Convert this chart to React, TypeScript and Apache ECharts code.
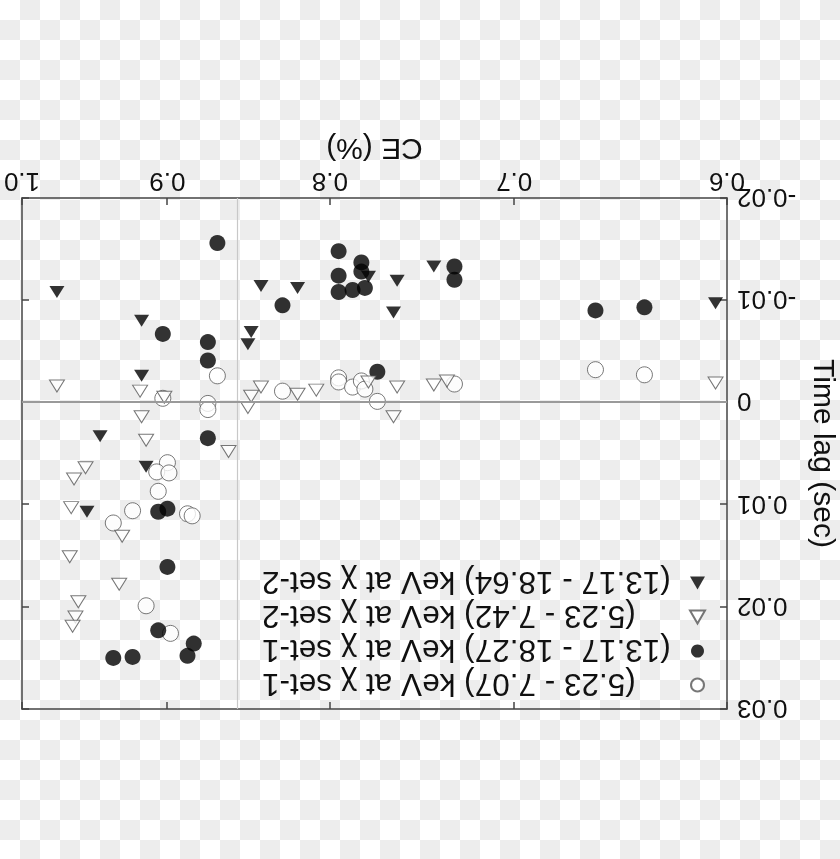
import React, { useEffect, useRef } from "react";
import * as echarts from "echarts";

// the reference picture is the plot turned upside down, so the chart is drawn
// the normal way and the whole box is rotated by 180deg at the end

const FONT = "Liberation Sans, Arial, Helvetica, sans-serif";

const ceTicks = [0.6, 0.7, 0.8, 0.9, 1.0];
const lagMin = -0.02;
const lagMax = 0.03;
const lagStep = 0.01;
const ceRefLine = 0.855;

const legendNames = [
  "(5.23 - 7.07) keV at χ set-1",
  "(13.17 - 18.27) keV at χ set-1",
  "(5.23 - 7.42) keV at χ set-2",
  "(13.17 - 18.64) keV at χ set-2",
];

// [CE, time lag]
const set1Soft = [
  [0.868, -0.0026], [0.903, -0.0004], [0.874, 0.0001], [0.874, 0.0007],
  [0.828, -0.0011], [0.795, -0.0024], [0.795, -0.002], [0.787, -0.0015],
  [0.782, -0.0021], [0.78, -0.0013], [0.773, -0.0001], [0.731, -0.0018],
  [0.66, -0.0032], [0.637, -0.0027], [0.9, 0.0059], [0.907, 0.0068],
  [0.899, 0.0069], [0.906, 0.0087], [0.923, 0.0106], [0.936, 0.0118],
  [0.887, 0.0109], [0.884, 0.0111], [0.914, 0.0199], [0.898, 0.0226],
];

const set1Hard = [
  [0.868, -0.0156], [0.795, -0.0148], [0.782, -0.0137], [0.782, -0.0128],
  [0.795, -0.0124], [0.795, -0.0108], [0.787, -0.011], [0.78, -0.0112],
  [0.731, -0.0133], [0.731, -0.012], [0.828, -0.0095], [0.903, -0.0067],
  [0.874, -0.0059], [0.874, -0.0041], [0.773, -0.003], [0.66, -0.009],
  [0.637, -0.0093], [0.874, 0.0035], [0.906, 0.0107], [0.9, 0.0104],
  [0.9, 0.0161], [0.906, 0.0223], [0.883, 0.0236], [0.887, 0.0248],
  [0.936, 0.025], [0.923, 0.0249],
];

const set2Soft = [
  [0.975, -0.0016], [0.918, -0.0011], [0.902, -0.0005], [0.841, -0.0015],
  [0.847, -0.0006], [0.849, 0.0005], [0.819, -0.0008], [0.808, -0.0012],
  [0.778, -0.002], [0.762, -0.0015], [0.764, 0.0014], [0.742, -0.0017],
  [0.735, -0.0021], [0.605, -0.0019], [0.917, 0.0014], [0.914, 0.0037],
  [0.861, 0.0048], [0.955, 0.0064], [0.963, 0.0075], [0.965, 0.0103],
  [0.93, 0.0131], [0.966, 0.0151], [0.932, 0.0178], [0.96, 0.0195],
  [0.962, 0.021], [0.964, 0.0219],
];

const set2Hard = [
  [0.975, -0.0108], [0.841, -0.0114], [0.819, -0.0112], [0.778, -0.0123],
  [0.762, -0.0119], [0.764, -0.0088], [0.917, -0.008], [0.847, -0.0069],
  [0.849, -0.0057], [0.917, -0.0026], [0.742, -0.0133], [0.605, -0.0097],
  [0.945, 0.0033], [0.914, 0.0063], [0.954, 0.0107],
];

const axisColor = "#444";

const ceAxis = (pos: "bottom" | "top") => ({
  type: "log",
  logBase: 10,
  min: 0.6,
  max: 1.0,
  position: pos,
  name: pos === "bottom" ? "CE (%)" : "",
  nameLocation: "middle",
  nameGap: 27,
  nameTextStyle: { fontSize: 30, color: "#111", fontFamily: FONT },
  axisLine: { show: true, onZero: false, lineStyle: { color: axisColor, width: 1.5 } },
  axisTick: {
    show: true,
    inside: true,
    length: 7,
    customValues: ceTicks,
    lineStyle: { color: axisColor, width: 1.5 },
  },
  axisLabel: {
    show: pos === "bottom",
    customValues: ceTicks,
    formatter: (v: number) => v.toFixed(1),
    fontSize: 26,
    margin: 3,
    color: "#111",
    fontFamily: FONT,
  },
  splitLine: { show: false },
});

const lagAxis = (pos: "left" | "right") => ({
  type: "value",
  min: lagMin,
  max: lagMax,
  interval: lagStep,
  position: pos,
  name: pos === "left" ? "Time lag (sec)" : "",
  nameLocation: "middle",
  nameGap: 82,
  nameTextStyle: { fontSize: 30, color: "#111", fontFamily: FONT },
  axisLine: { show: true, onZero: false, lineStyle: { color: axisColor, width: 1.5 } },
  axisTick: { show: true, inside: true, length: 7, lineStyle: { color: axisColor, width: 1.5 } },
  axisLabel: {
    show: pos === "left",
    formatter: (v: number) => (Math.abs(v) < 1e-9 ? "0" : v.toFixed(2)),
    fontSize: 26,
    margin: 10,
    color: "#111",
    fontFamily: FONT,
  },
  splitLine: { show: false },
});

const openStyle = { color: "#ffffff", borderColor: "#555", borderWidth: 1 };
const filledStyle = { color: "#000000" };

const option: any = {
  animation: false,
  textStyle: { fontFamily: FONT },
  grid: { left: 113, right: 22, top: 150, bottom: 198, containLabel: false, outerBoundsMode: "none" },
  xAxis: [ceAxis("bottom"), ceAxis("top")],
  yAxis: [lagAxis("left"), lagAxis("right")],
  legend: {
    data: legendNames,
    orient: "vertical",
    left: 134,
    top: 158,
    padding: 0,
    itemGap: 2,
    itemWidth: 15,
    itemHeight: 13,
    selectedMode: false,
    formatter: (name: string) => `{t|${name}}`,
    textStyle: {
      rich: {
        t: { fontSize: 31.5, width: 423, align: "right", color: "#111", fontFamily: FONT },
      },
    },
  },
  series: [
    {
      name: legendNames[0],
      type: "scatter",
      symbol: "circle",
      symbolSize: 16,
      itemStyle: openStyle,
      data: set1Soft,
      markLine: {
        silent: true,
        precision: 4,
        symbol: ["none", "none"],
        label: { show: false },
        data: [
          { xAxis: ceRefLine, lineStyle: { color: "#c8c8c8", width: 1.2, type: "solid" } },
          { yAxis: 0, lineStyle: { color: "#9a9a9a", width: 2, type: "solid" } },
        ],
      },
    },
    {
      name: legendNames[1],
      type: "scatter",
      symbol: "circle",
      symbolSize: 16,
      itemStyle: filledStyle,
      data: set1Hard,
    },
    {
      name: legendNames[2],
      type: "scatter",
      symbol: "triangle",
      symbolSize: [15, 12],
      itemStyle: openStyle,
      data: set2Soft,
    },
    {
      name: legendNames[3],
      type: "scatter",
      symbol: "triangle",
      symbolSize: [15, 12],
      itemStyle: filledStyle,
      data: set2Hard,
    },
  ],
};

export default function App() {
  const chartRef = useRef<HTMLDivElement>(null);

  useEffect(() => {
    const chart = echarts.init(chartRef.current, null, { renderer: "svg" });
    chart.setOption(option);
    return () => chart.dispose();
  }, []);

  return (
    <div
      style={{
        position: "fixed",
        left: 0,
        top: 0,
        width: 840,
        height: 859,
        background: "repeating-conic-gradient(#ededed 0% 25%, #ffffff 0% 50%) 0 0 / 40px 40px",
      }}
    >
      <div ref={chartRef} style={{ width: 840, height: 859, transform: "rotate(180deg)" }} />
    </div>
  );
}
